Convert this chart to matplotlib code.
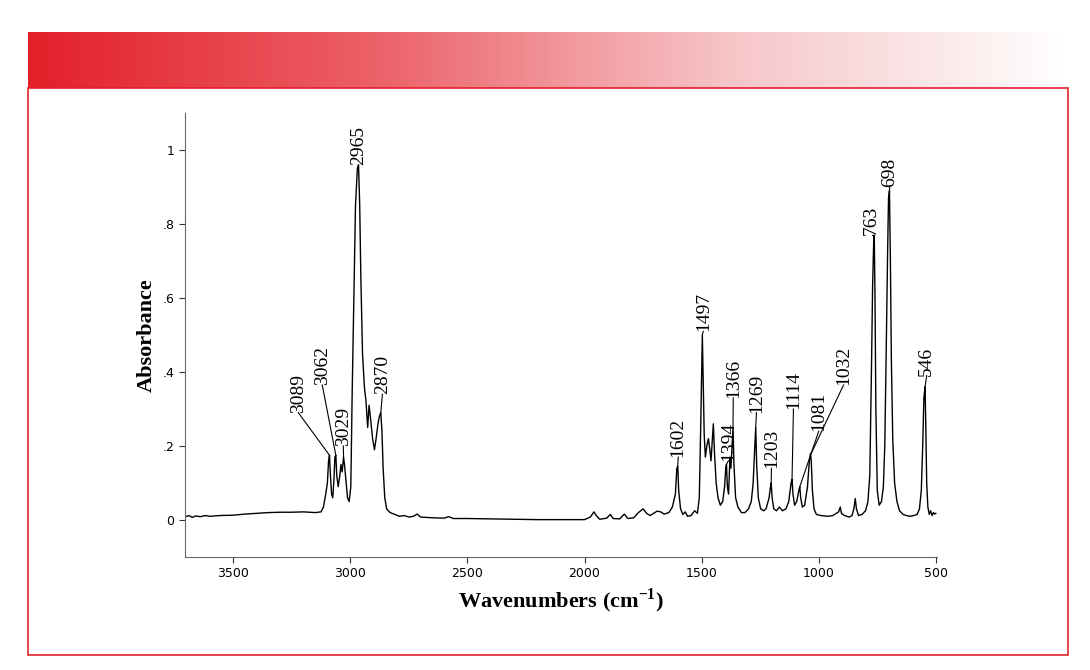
import matplotlib
matplotlib.use("Agg")
import matplotlib.pyplot as plt
from matplotlib.colors import LinearSegmentedColormap
from matplotlib.patches import Rectangle
import numpy as np

plt.rcParams["mathtext.fontset"] = "custom"
plt.rcParams["mathtext.rm"] = "Liberation Serif:bold"
plt.rcParams["mathtext.bf"] = "Liberation Serif:bold"

# spectrum: (wavenumber, absorbance)
spectrum = [
    (3706, 0.008), (3690, 0.012), (3675, 0.007), (3660, 0.011), (3640, 0.009), (3620, 0.012),
    (3600, 0.010), (3560, 0.012), (3500, 0.013), (3450, 0.016), (3400, 0.018), (3350, 0.020),
    (3300, 0.021), (3250, 0.021), (3200, 0.022), (3150, 0.020), (3125, 0.022), (3115, 0.035),
    (3105, 0.07), (3098, 0.10), (3093, 0.16), (3089, 0.175), (3085, 0.12), (3080, 0.07),
    (3075, 0.06), (3070, 0.11), (3066, 0.17), (3062, 0.175), (3058, 0.12), (3052, 0.09),
    (3045, 0.12), (3040, 0.15), (3035, 0.13), (3029, 0.17), (3025, 0.15), (3018, 0.10),
    (3012, 0.06), (3005, 0.05), (2998, 0.09), (2992, 0.35), (2985, 0.60), (2978, 0.85),
    (2970, 0.95), (2965, 0.96), (2960, 0.85), (2955, 0.65), (2948, 0.45), (2940, 0.36),
    (2933, 0.32), (2926, 0.25), (2920, 0.31), (2913, 0.27), (2905, 0.22), (2897, 0.19),
    (2890, 0.22), (2882, 0.26), (2876, 0.28), (2870, 0.29), (2865, 0.24), (2860, 0.14),
    (2853, 0.06), (2845, 0.03), (2830, 0.02), (2810, 0.015), (2790, 0.010), (2770, 0.012),
    (2750, 0.008), (2730, 0.010), (2715, 0.016), (2700, 0.008), (2650, 0.006), (2600, 0.005),
    (2580, 0.009), (2560, 0.004), (2500, 0.004), (2400, 0.003), (2300, 0.002), (2200, 0.001),
    (2100, 0.001), (2000, 0.001), (1975, 0.008), (1960, 0.022), (1950, 0.012), (1935, 0.002),
    (1905, 0.005), (1890, 0.015), (1878, 0.004), (1850, 0.003), (1830, 0.016), (1815, 0.004),
    (1790, 0.006), (1770, 0.020), (1750, 0.030), (1735, 0.018), (1720, 0.012), (1705, 0.018),
    (1690, 0.024), (1675, 0.022), (1660, 0.016), (1640, 0.020), (1625, 0.035), (1612, 0.07),
    (1606, 0.14), (1602, 0.145), (1598, 0.08), (1590, 0.03), (1580, 0.015), (1570, 0.022),
    (1560, 0.010), (1545, 0.012), (1530, 0.025), (1518, 0.018), (1510, 0.06), (1504, 0.25),
    (1500, 0.40), (1497, 0.50), (1493, 0.37), (1489, 0.23), (1484, 0.17), (1478, 0.20),
    (1471, 0.22), (1465, 0.19), (1460, 0.16), (1454, 0.22), (1450, 0.26), (1445, 0.18),
    (1438, 0.10), (1430, 0.06), (1420, 0.04), (1410, 0.05), (1402, 0.09), (1397, 0.14),
    (1394, 0.15), (1390, 0.09), (1385, 0.07), (1379, 0.17), (1375, 0.14), (1370, 0.20),
    (1366, 0.25), (1362, 0.15), (1355, 0.06), (1345, 0.035), (1330, 0.02), (1315, 0.02),
    (1300, 0.03), (1288, 0.05), (1280, 0.10), (1273, 0.20), (1269, 0.25), (1265, 0.15),
    (1258, 0.06), (1248, 0.03), (1235, 0.025), (1225, 0.03), (1212, 0.06), (1206, 0.09),
    (1203, 0.10), (1199, 0.06), (1192, 0.03), (1180, 0.025), (1168, 0.035), (1155, 0.025),
    (1140, 0.03), (1128, 0.05), (1118, 0.10), (1114, 0.11), (1110, 0.07), (1103, 0.04),
    (1094, 0.05), (1085, 0.08), (1081, 0.09), (1077, 0.06), (1070, 0.035), (1060, 0.04),
    (1048, 0.09), (1040, 0.16), (1035, 0.18), (1032, 0.16), (1027, 0.08), (1020, 0.03),
    (1010, 0.015), (990, 0.012), (960, 0.010), (940, 0.012), (925, 0.018), (915, 0.022),
    (908, 0.035), (903, 0.018), (890, 0.012), (870, 0.008), (858, 0.012), (850, 0.030),
    (844, 0.058), (839, 0.030), (830, 0.012), (815, 0.015), (800, 0.025), (790, 0.05),
    (782, 0.12), (775, 0.40), (770, 0.63), (765, 0.76), (763, 0.77), (760, 0.62),
    (756, 0.30), (750, 0.08), (742, 0.04), (732, 0.05), (724, 0.09), (718, 0.20),
    (712, 0.45), (706, 0.72), (702, 0.87), (698, 0.89), (694, 0.70), (690, 0.44),
    (684, 0.22), (676, 0.10), (666, 0.05), (655, 0.025), (640, 0.015), (625, 0.012),
    (610, 0.010), (595, 0.012), (580, 0.015), (570, 0.030), (562, 0.08), (556, 0.20),
    (551, 0.33), (546, 0.36), (543, 0.26), (539, 0.10), (534, 0.035), (528, 0.015),
    (522, 0.025), (516, 0.012), (510, 0.020), (505, 0.016), (500, 0.018),
]

# peak labels: (text, peak wavenumber, peak absorbance, label wavenumber, label absorbance)
peak_labels = [
    ("3089", 3089, 0.175, 3222, 0.29),
    ("3062", 3062, 0.175, 3120, 0.365),
    ("3029", 3029, 0.17, 3030, 0.20),
    ("2965", 2965, 0.96, 2965, 0.96),
    ("2870", 2870, 0.29, 2863, 0.34),
    ("1602", 1602, 0.145, 1600, 0.17),
    ("1497", 1497, 0.50, 1493, 0.51),
    ("1394", 1394, 0.15, 1386, 0.16),
    ("1366", 1366, 0.25, 1365, 0.33),
    ("1269", 1269, 0.25, 1266, 0.29),
    ("1203", 1203, 0.10, 1202, 0.14),
    ("1114", 1114, 0.11, 1108, 0.30),
    ("1081", 1081, 0.09, 1000, 0.24),
    ("1032", 1032, 0.18, 894, 0.365),
    ("763", 763, 0.77, 774, 0.77),
    ("698", 698, 0.89, 697, 0.90),
    ("546", 546, 0.36, 539, 0.39),
]

x_ticks = [3500, 3000, 2500, 2000, 1500, 1000, 500]
y_ticks = [0, 0.2, 0.4, 0.6, 0.8, 1.0]
y_tick_labels = ["0", ".2", ".4", ".6", ".8", "1"]

fig = plt.figure(figsize=(10.9, 6.7), dpi=100)

# red gradient band on top
band = fig.add_axes([28 / 1090, 1 - 88 / 670, 1040 / 1090, 56 / 670])
red_white = LinearSegmentedColormap.from_list("rw", ["#e3202a", "#ec6068", "#f6c3c6", "#ffffff"])
band.imshow(np.linspace(0, 1, 256)[None, :], aspect="auto", cmap=red_white)
band.axis("off")

# red frame around the chart area
fig.patches.append(Rectangle((28 / 1090, 1 - 655 / 670), 1040 / 1090, 567 / 670,
                             transform=fig.transFigure, fill=False, edgecolor="#e3202a", linewidth=1.2))

ax = fig.add_axes([185 / 1090, 1 - 557 / 670, 752 / 1090, 444 / 670])
wn, ab = zip(*spectrum)
ax.plot(wn, ab, color="black", linewidth=1.0)

for text, px, py, lx, ly in peak_labels:
    ax.plot([px, lx], [py, ly], color="black", linewidth=0.8)
    ax.text(lx, ly, text, rotation=90, ha="center", va="bottom",
            family="Liberation Serif", fontsize=14)

ax.set_xlim(3706, 495)
ax.set_ylim(-0.1, 1.1)
ax.set_xticks(x_ticks)
ax.set_yticks(y_ticks)
ax.set_yticklabels(y_tick_labels)
ax.tick_params(labelsize=9, length=4, colors="#333333", labelcolor="black")
for side in ("top", "right"):
    ax.spines[side].set_visible(False)
for side in ("left", "bottom"):
    ax.spines[side].set_color("#666666")

ax.set_xlabel("Wavenumbers (cm$^{-1}$)", family="Liberation Serif", fontsize=16, fontweight="bold")
ax.set_ylabel("Absorbance", family="Liberation Serif", fontsize=16, fontweight="bold")

fig.savefig("out.png", dpi=100)
